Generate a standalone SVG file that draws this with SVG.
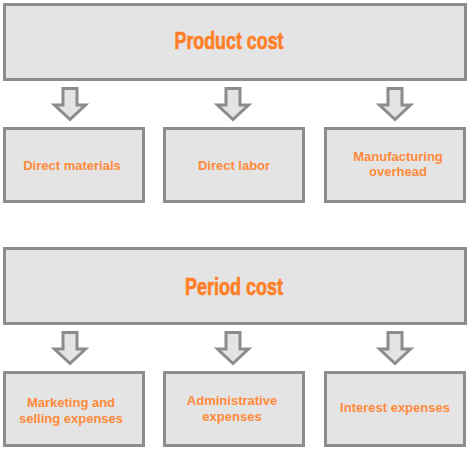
<svg xmlns="http://www.w3.org/2000/svg" xmlns:xlink="http://www.w3.org/1999/xlink" width="472" height="452" viewBox="0 0 472 452">
<style>
.box{fill:#e4e4e4;stroke:#8c8c8c;stroke-width:3}
.arrow{fill:#e4e4e4;stroke:#8c8c8c;stroke-width:3;stroke-linejoin:miter}
.big{font-family:"Liberation Sans Narrow","Liberation Sans",Arial,sans-serif;font-weight:bold;font-size:24px;fill:#ff7f27;stroke:#ff7f27;stroke-width:0.7;text-anchor:middle}
.small{font-family:"Liberation Sans",Arial,sans-serif;font-weight:bold;font-size:13px;fill:#ff8a3a;text-anchor:middle}
</style>
<defs>
<path id="arr" class="arrow" d="M-7,0 H7 V16.5 H15.5 L0,31 L-15.5,16.5 H-7 Z"/>
</defs>
<rect width="472" height="452" fill="#ffffff"/>
<g id="product-cost">
<rect class="box" x="4.5" y="4.5" width="461" height="75"/>
<text class="big" x="229" y="49" textLength="109" lengthAdjust="spacingAndGlyphs">Product cost</text>
</g>
<g id="direct-materials">
<rect class="box" x="4.5" y="128.5" width="139" height="73"/>
<text class="small" x="72" y="169.5">Direct materials</text>
</g>
<g id="direct-labor">
<rect class="box" x="164.5" y="128.5" width="139" height="73"/>
<text class="small" x="234" y="169.5">Direct labor</text>
</g>
<g id="manufacturing-overhead">
<rect class="box" x="325.5" y="128.5" width="139" height="73"/>
<text class="small" x="398" y="160.5">Manufacturing</text>
<text class="small" x="398" y="176">overhead</text>
</g>
<g id="period-cost">
<rect class="box" x="4.5" y="248.5" width="461" height="75"/>
<text class="big" x="234" y="294.5" textLength="98" lengthAdjust="spacingAndGlyphs">Period cost</text>
</g>
<g id="marketing-selling">
<rect class="box" x="4.5" y="372.5" width="139" height="73"/>
<text class="small" x="71" y="407">Marketing and</text>
<text class="small" x="71" y="423">selling expenses</text>
</g>
<g id="administrative">
<rect class="box" x="164.5" y="372.5" width="139" height="73"/>
<text class="small" x="232" y="405">Administrative</text>
<text class="small" x="232" y="421">expenses</text>
</g>
<g id="interest">
<rect class="box" x="325.5" y="372.5" width="139" height="73"/>
<text class="small" x="395" y="412">Interest expenses</text>
</g>
<g id="connectors">
<use xlink:href="#arr" x="70" y="88.5"/>
<use xlink:href="#arr" x="233" y="88.5"/>
<use xlink:href="#arr" x="395" y="88.5"/>
<use xlink:href="#arr" x="70" y="332.5"/>
<use xlink:href="#arr" x="233" y="332.5"/>
<use xlink:href="#arr" x="395" y="332.5"/>
</g>
</svg>
